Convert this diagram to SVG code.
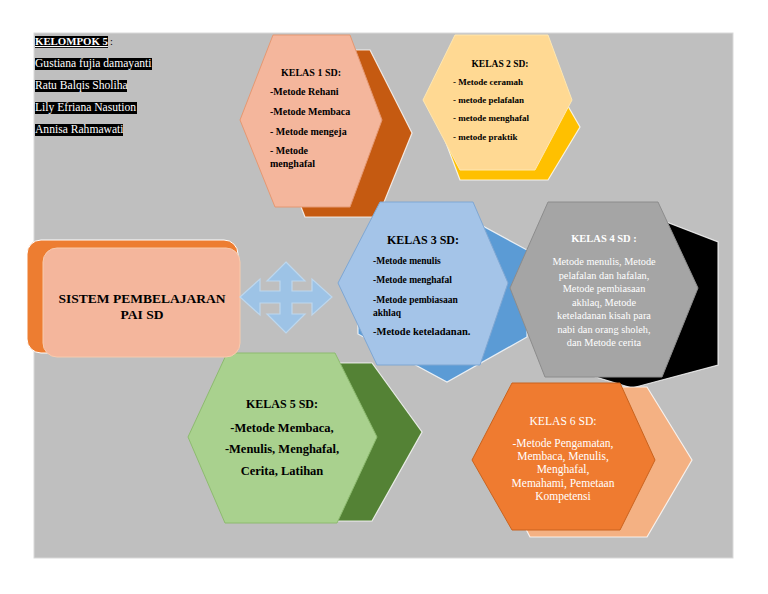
<svg xmlns="http://www.w3.org/2000/svg" width="768" height="594" viewBox="0 0 768 594">
<style>
.b{font-family:"Liberation Serif","Times New Roman",serif;font-weight:bold;fill:#000}
.r{font-family:"Liberation Serif","Times New Roman",serif;fill:#000}
.w{fill:#fff}
.hl{fill:#000}
.edge{stroke:#fff;stroke-width:1.2;stroke-opacity:0.8}
.m{text-anchor:middle}
</style>
<rect width="768" height="594" fill="#fff"/>
<rect x="34" y="33" width="699" height="525" fill="#BFBFBF" stroke="#d9d9d9" stroke-width="1"/>

<g id="kelompok">
<rect class="hl" x="35" y="36" width="73" height="12"/>
<text class="b w" x="35" y="45" font-size="10.8" text-decoration="underline">KELOMPOK 5</text>
<text class="r" x="110" y="45" font-size="10.5">:</text>
<rect class="hl" x="35" y="58" width="117" height="12"/>
<text class="r w" x="35" y="67" font-size="11.6">Gustiana fujia damayanti</text>
<rect class="hl" x="35" y="80" width="92" height="12"/>
<text class="r w" x="35" y="89" font-size="11.6">Ratu Balqis Sholiha</text>
<rect class="hl" x="35" y="102" width="102" height="12"/>
<text class="r w" x="35" y="111" font-size="11.6">Lily Efriana Nasution</text>
<rect class="hl" x="35" y="124" width="88" height="12"/>
<text class="r w" x="35" y="133" font-size="11.6">Annisa Rahmawati</text>
</g>

<g id="kelas1">
<polygon class="edge" points="272,133 305,50 370,50 412,133 378,217 305,217" fill="#C55A11"/>
<polygon points="240,120 273,35 350,35 382,120 350,207 275,207" fill="#F4B69C" stroke="#E59872" stroke-width="1"/>
<text class="b m" x="311" y="76" font-size="10">KELAS 1 SD:</text>
<text class="b" x="270" y="95" font-size="10">-Metode Rehani</text>
<text class="b" x="270" y="115" font-size="10">-Metode Membaca</text>
<text class="b" x="270" y="135" font-size="10">- Metode mengeja</text>
<text class="b" x="270" y="154" font-size="10">- Metode</text>
<text class="b" x="270" y="167" font-size="10">menghafal</text>
</g>

<g id="kelas2">
<polygon class="edge" points="440,127 470,75 550,75 580,127 548,180 460,180" fill="#FFC000"/>
<polygon points="423,100 455,35 548,35 572,100 535,170 460,170" fill="#FFD993" stroke="#FFE7B0" stroke-width="1"/>
<text class="b m" x="500" y="67" font-size="9.5">KELAS 2 SD:</text>
<text class="b" x="453" y="85" font-size="9">- Metode ceramah</text>
<text class="b" x="453" y="103" font-size="9">- metode pelafalan</text>
<text class="b" x="453" y="121" font-size="9">- metode menghafal</text>
<text class="b" x="453" y="140" font-size="9">- metode praktik</text>
</g>

<g id="kelas3">
<polygon class="edge" points="444,205 527,250 527,337 447,382 358,334 358,252" fill="#5B9BD5"/>
<polygon points="338,283 380,202 473,202 508,283 480,365 377,365" fill="#A4C4E8" stroke="#7FA7D3" stroke-width="1"/>
<text class="b m" x="423" y="244" font-size="12">KELAS 3 SD:</text>
<text class="b" x="373" y="264" font-size="9.5">-Metode menulis</text>
<text class="b" x="373" y="283" font-size="9.5">-Metode menghafal</text>
<text class="b" x="373" y="303" font-size="9.5">-Metode pembiasaan</text>
<text class="b" x="373" y="316" font-size="9.5">akhlaq</text>
<text class="b" x="373" y="335" font-size="10.5">-Metode keteladanan.</text>
</g>

<g id="kelas4">
<polygon class="edge" points="630,208 718,242 718,365 632,388 540,360 540,242" fill="#000"/>
<polygon points="510,288 548,202 658,202 698,288 662,377 545,377" fill="#A5A5A5" stroke="#8c8c8c" stroke-width="1"/>
<text class="b w m" x="604" y="242" font-size="10.5">KELAS 4 SD :</text>
<g class="r w m" font-size="10.3">
<text x="604" y="265">Metode menulis, Metode</text>
<text x="604" y="279">pelafalan dan hafalan,</text>
<text x="604" y="292">Metode pembiasaan</text>
<text x="604" y="306">akhlaq, Metode</text>
<text x="604" y="319">keteladanan kisah para</text>
<text x="604" y="333">nabi dan orang sholeh,</text>
<text x="604" y="346">dan Metode cerita</text>
</g>
</g>

<g id="kelas5">
<polygon class="edge" points="270,432 310,363 372,363 422,432 372,521 310,521" fill="#548235"/>
<polygon points="188,437 227,353 335,353 377,437 337,523 225,523" fill="#A9D18E" stroke="#8DBB6F" stroke-width="1"/>
<text class="b m" x="282" y="408" font-size="12">KELAS 5 SD:</text>
<text class="b m" x="282" y="432" font-size="12.5">-Metode Membaca,</text>
<text class="b m" x="282" y="453" font-size="12.5">-Menulis, Menghafal,</text>
<text class="b m" x="282" y="475" font-size="12.5">Cerita, Latihan</text>
</g>

<g id="kelas6">
<polygon class="edge" points="490,460 530,387 647,387 692,460 647,537 530,537" fill="#F4B183"/>
<polygon points="472,460 512,383 620,383 655,460 620,530 512,530" fill="#EF7B30" stroke="#C9631E" stroke-width="1"/>
<text class="r w m" x="563" y="425" font-size="11.6">KELAS 6 SD:</text>
<g class="r w m" font-size="11.5">
<text x="563" y="447">-Metode Pengamatan,</text>
<text x="563" y="460">Membaca, Menulis,</text>
<text x="563" y="473">Menghafal,</text>
<text x="563" y="487">Memahami, Pemetaan</text>
<text x="563" y="500">Kompetensi</text>
</g>
</g>

<g id="sistem">
<rect x="27" y="240" width="211" height="113" rx="14" fill="#ED7D31" stroke="#fff" stroke-width="1"/>
<rect x="43" y="248" width="197" height="109" rx="14" fill="#F4B69C" stroke="#F8CBAD" stroke-width="1"/>
<text class="b m" x="142" y="303" font-size="13.5">SISTEM PEMBELAJARAN</text>
<text class="b m" x="142" y="319" font-size="13.5">PAI SD</text>
</g>

<g id="connectors">
<path d="M286,262 L305,281 L292,281 L292,291 L312,291 L312,279 L332,297 L312,315 L312,303 L292,303 L292,314 L305,314 L286,333 L267,314 L280,314 L280,303 L260,303 L260,315 L240,297 L260,279 L260,291 L280,291 L280,281 L267,281 Z" fill="#9DC3E6" stroke="#BDD7EE" stroke-width="1.2"/>
</g>
</svg>
